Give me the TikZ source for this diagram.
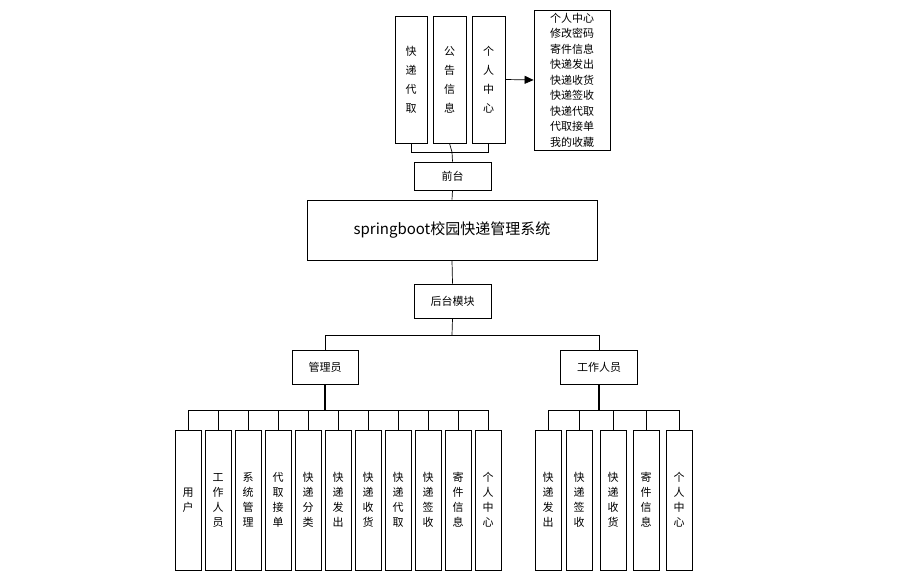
\documentclass[tikz,border=0pt]{standalone}
\usepackage{fontspec}
\setmainfont{Noto Sans CJK SC}
\usetikzlibrary{arrows.meta}
\begin{document}
\begin{tikzpicture}[x=1pt,y=-1pt,
  bx/.style={draw,line width=0.8pt,inner sep=0pt,font=\fontsize{11}{11}\selectfont},
  vb/.style={bx,minimum width=26pt,minimum height=140pt,align=center,font=\fontsize{11}{15}\selectfont},
  ln/.style={draw,line width=0.7pt}]
\useasboundingbox (0,0) rectangle (897,577);
% top
\node[bx,minimum width=32pt,minimum height=127pt,align=center,font=\fontsize{11}{19}\selectfont] (t1) at (411,79.5) {快\\递\\代\\取};
\node[bx,minimum width=33pt,minimum height=127pt,align=center,font=\fontsize{11}{19}\selectfont] (t2) at (449.5,79.5) {公\\告\\信\\息};
\node[bx,minimum width=33pt,minimum height=127pt,align=center,font=\fontsize{11}{19}\selectfont] (t3) at (488.5,79.5) {个\\人\\中\\心};
\node[bx,minimum width=76pt,minimum height=140pt,align=left,font=\fontsize{11}{15.5}\selectfont] (lst) at (572,80) {个人中心\\修改密码\\寄件信息\\快递发出\\快递收货\\快递签收\\快递代取\\代取接单\\我的收藏};
\draw[ln,-{Triangle[length=9pt,width=8pt]}] (t3.east) -- (lst.west);
\node[bx,minimum width=77pt,minimum height=28pt] (qt) at (452.5,176) {前台};
\coordinate (j) at (452,152);
\draw[ln] (t1.south) |- (t3.south |- j) -- (t3.south);
\draw[ln] (t2.south) -- (j) -- (qt.north);
\node[bx,minimum width=290pt,minimum height=60pt,font=\fontsize{15}{15}\selectfont] (sys) at (452,230) {springboot校园快递管理系统};
\draw[ln] (qt.south) -- (sys.north);
\node[bx,minimum width=77pt,minimum height=34pt] (ht) at (452.5,301) {后台模块};
\draw[ln] (sys.south) -- (ht.north);
\node[bx,minimum width=66pt,minimum height=34pt] (gly) at (325,367) {管理员};
\node[bx,minimum width=77pt,minimum height=34pt] (gz) at (599,367) {工作人员};
\draw[ln] (ht.south) -- (452,335);
\draw[ln] (gly.north) -- (325,335) -- (599,335) -- (gz.north);
% left children
\foreach \t [count=\i from 0] in {{用\\户},{工\\作\\人\\员},{系\\统\\管\\理},{代\\取\\接\\单},{快\\递\\分\\类},{快\\递\\发\\出},{快\\递\\收\\货},{快\\递\\代\\取},{快\\递\\签\\收},{寄\\件\\信\\息},{个\\人\\中\\心}}{
  \node[vb] (a\i) at ({188+30*\i},500) {\t};
  \draw[ln] (a\i.north) -- ++(0,-20);
}
\draw[ln] (188,410) -- (488,410);
\draw[line width=1.6pt] (gly.south) -- (325,410);
% right children
\foreach \t/\x [count=\i from 0] in {{快\\递\\发\\出}/548,{快\\递\\签\\收}/579,{快\\递\\收\\货}/613,{寄\\件\\信\\息}/646,{个\\人\\中\\心}/679}{
  \node[vb] (b\i) at (\x,500) {\t};
  \draw[ln] (b\i.north) -- ++(0,-20);
}
\draw[ln] (548,410) -- (679,410);
\draw[line width=1.6pt] (gz.south) -- (599,410);
\end{tikzpicture}
\end{document}
